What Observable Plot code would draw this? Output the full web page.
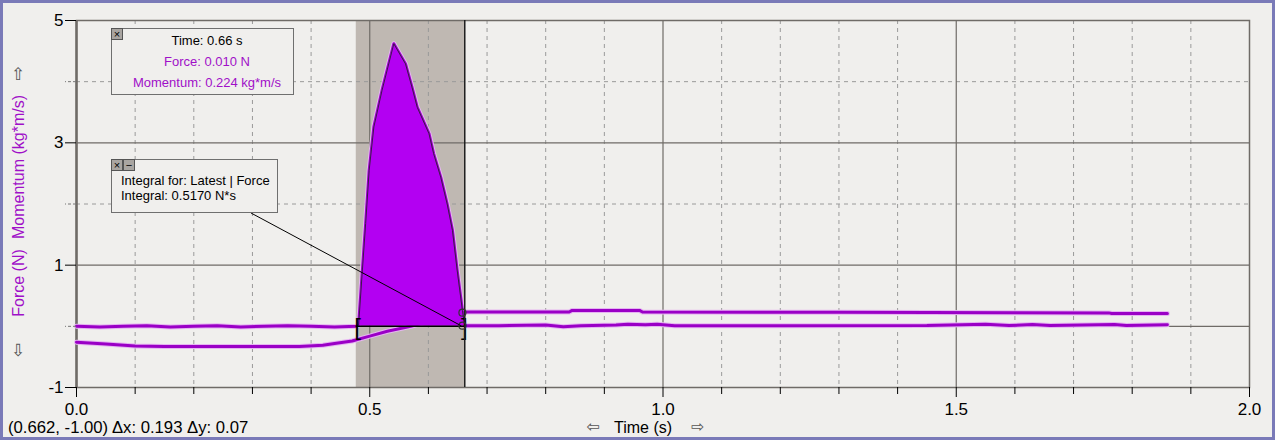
<!DOCTYPE html>
<html><head><meta charset="utf-8">
<script src="https://cdn.jsdelivr.net/npm/d3@7"></script>
<script src="https://cdn.jsdelivr.net/npm/@observablehq/plot@0.6"></script>
<style>
html,body{margin:0;padding:0;background:#f0efed;}
#chart{width:1275px;height:440px;position:relative;overflow:hidden;}
</style></head>
<body><div id="chart"></div>
<script>
// ---------- data ----------
const forceTime = [
  0.00, 0.04, 0.08, 0.12, 0.16, 0.20, 0.24, 0.28, 0.32, 0.36,
  0.40, 0.44, 0.477, 0.481, 0.487, 0.493, 0.499, 0.507, 0.521, 0.541,
  0.561, 0.572, 0.581, 0.601, 0.609, 0.621, 0.632, 0.641, 0.649, 0.658,
  0.662, 0.72, 0.80, 0.83, 0.86, 0.92, 0.94, 0.97, 0.99, 1.02,
  1.20, 1.45, 1.55, 1.59, 1.63, 1.66, 1.77, 1.79, 1.86
];
const forceValue = [
  0.00, -0.01, 0.00, 0.01, -0.01, 0.00, 0.01, -0.01, 0.00, 0.01,
  0.00, -0.01, 0.00, 0.02, 0.86, 1.68, 2.55, 3.26, 3.86, 4.62,
  4.29, 3.91, 3.58, 3.15, 2.82, 2.44, 2.00, 1.57, 0.92, 0.26,
  0.01, 0.01, 0.02, -0.005, 0.01, 0.02, 0.035, 0.025, 0.035, 0.01,
  0.01, 0.012, 0.035, 0.012, 0.03, 0.012, 0.03, 0.012, 0.025
];
const momentumTime = [
  0.00, 0.05, 0.10, 0.15, 0.20, 0.25, 0.30, 0.38, 0.42, 0.44,
  0.47, 0.50, 0.53, 0.57, 0.60, 0.63, 0.662, 0.665, 0.84, 0.845,
  0.96, 0.965, 1.30, 1.76, 1.765, 1.86
];
const momentumValue = [
  -0.26, -0.29, -0.32, -0.33, -0.33, -0.33, -0.33, -0.33, -0.31, -0.28,
  -0.24, -0.16, -0.08, 0.00, 0.08, 0.17, 0.224, 0.235, 0.235, 0.26,
  0.26, 0.235, 0.23, 0.22, 0.21, 0.21
];
const xMajorTicks = [0.0, 0.5, 1.0, 1.5, 2.0];
const xMinorTicks = [0.1, 0.2, 0.3, 0.4, 0.6, 0.7, 0.8, 0.9, 1.1, 1.2, 1.3, 1.4, 1.6, 1.7, 1.8, 1.9];
const yMajorTicks = [5, 3, 1, -1];
const yMinorTicks = [4, 2, 0];
const ySolidGrid = [3, 1, 0];
const selectionRange = [0.477, 0.662];
const cursorTime = 0.662;
const readoutTexts = ["Time: 0.66 s", "Force: 0.010 N", "Momentum: 0.224 kg*m/s"];
const readoutValues = [0.224, 0.010];
const integralTexts = ["Integral for: Latest | Force", "Integral: 0.5170 N*s"];
const statusText = "(0.662, -1.00) \u0394x: 0.193 \u0394y: 0.07";
const xAxisTitle = "Time (s)";
const yAxisTitles = ["Force (N)", "Momentum (kg*m/s)"];

// ---------- build tables ----------
const force = forceTime.map((t, i) => ({t, v: forceValue[i]}));
const momentum = momentumTime.map((t, i) => ({t, v: momentumValue[i]}));
const peak = force.filter(d => d.t >= selectionRange[0] && d.t <= selectionRange[1]);
const sel = [{start: selectionRange[0], end: selectionRange[1]}];

const PURPLE = "#9a00c6";
const HALO = "#e6b4f2";
const FILL = "#b300f2";
const GRID = "#6f6b67";
const DASH = "#9a9a9a";
const FONT = "'Liberation Sans', Arial, sans-serif";

const chart = Plot.plot({
  width: 1275, height: 440,
  marginLeft: 76, marginRight: 26, marginTop: 20, marginBottom: 53,
  x: {domain: [0, 2]},
  y: {domain: [-1, 5]},
  style: {background: "#f0efed", fontFamily: FONT, fontSize: "17px", color: "#000", overflow: "visible"},
  marks: [
    Plot.rect(sel, {x1: "start", x2: "end", fill: "#bfb8b2"}),
    Plot.gridX(xMinorTicks, {stroke: DASH, strokeOpacity: 1, strokeDasharray: "4,4"}),
    Plot.gridY([4, 2], {stroke: DASH, strokeOpacity: 1, strokeDasharray: "4,4"}),
    Plot.gridX([0.5, 1.0, 1.5], {stroke: GRID, strokeOpacity: 1, strokeWidth: 1.2}),
    Plot.gridY(ySolidGrid, {stroke: GRID, strokeOpacity: 1, strokeWidth: 1.2}),
    Plot.frame({stroke: GRID, strokeWidth: 1.5}),
    Plot.ruleX([0], {stroke: GRID, strokeWidth: 2.5}),
    // momentum
    Plot.line(momentum, {x: "t", y: "v", stroke: HALO, strokeWidth: 5}),
    Plot.line(momentum, {x: "t", y: "v", stroke: PURPLE, strokeWidth: 3}),
    // force
    Plot.line(force, {x: "t", y: "v", stroke: HALO, strokeWidth: 5}),
    Plot.line(force, {x: "t", y: "v", stroke: PURPLE, strokeWidth: 3}),
    Plot.areaY(peak, {x: "t", y: "v", fill: FILL}),
    Plot.line(peak, {x: "t", y: "v", stroke: "#3b1a48", strokeWidth: 1}),
    // integral baseline and brackets
    Plot.ruleY([0], {x1: selectionRange[0], x2: selectionRange[1], stroke: "#000", strokeWidth: 1.5}),
    Plot.text([selectionRange[0]], {x: d => d, y: 0, text: () => "[", fontSize: 24, textAnchor: "start", dx: -2, dy: 1, fill: "#000"}),
    Plot.text([selectionRange[1]], {x: d => d, y: 0, text: () => "]", fontSize: 24, textAnchor: "end", dx: 3, dy: 1, fill: "#000"}),
    // cursor
    Plot.ruleX([cursorTime], {stroke: "#1e1e1e", strokeWidth: 1.5}),
    Plot.dot(readoutValues, {x: cursorTime - 0.004, y: d => d, r: 3.5, stroke: "#333", strokeWidth: 1.2, fill: "none"}),
    // axes
    Plot.axisX(xMajorTicks, {tickSize: 10, tickPadding: 5, tickFormat: d3.format(".1f"), label: null, stroke: "#000"}),
    Plot.axisX(xMinorTicks, {tickSize: 7, tickFormat: () => "", label: null, stroke: "#000"}),
    Plot.axisY(yMajorTicks, {tickSize: 11, tickPadding: 2, tickFormat: d => String(d), label: null, stroke: "#000"}),
    Plot.axisY(yMinorTicks, {tickSize: 11, tickFormat: () => "", label: null, stroke: "#777", strokeDasharray: "3,2"})
  ]
});

document.getElementById("chart").appendChild(chart);

// ---------- decorations drawn in pixel space with d3 ----------
const svg = d3.select(chart);
const sx = chart.scale("x"), sy = chart.scale("y");
const g = svg.append("g").attr("font-family", FONT).attr("text-anchor", "start");

// leader line from integral box to the cursor point
g.append("line")
  .attr("x1", 251).attr("y1", 213)
  .attr("x2", sx.apply(cursorTime) - 3).attr("y2", sy.apply(0))
  .attr("stroke", "#000").attr("stroke-width", 1);

// readout box
g.append("rect").attr("x", 111.5).attr("y", 28.5).attr("width", 182).attr("height", 66)
  .attr("fill", "#f0efed").attr("stroke", "#6f6f6f");
g.append("rect").attr("x", 111.5).attr("y", 28.5).attr("width", 11).attr("height", 11)
  .attr("fill", "#a9a5a1").attr("stroke", "#555");
g.append("text").attr("x", 117).attr("y", 38).attr("text-anchor", "middle")
  .attr("font-size", 11).attr("fill", "#000").text("\u00d7");
const readoutColors = ["#000", "#a010c8", "#a010c8"];
const readoutY = [45, 66, 87];
readoutTexts.forEach((t, i) => {
  g.append("text").attr("x", 207).attr("y", readoutY[i]).attr("text-anchor", "middle")
    .attr("font-size", 13).attr("fill", readoutColors[i]).text(t);
});

// integral box
g.append("rect").attr("x", 111.5).attr("y", 159.5).attr("width", 166).attr("height", 53)
  .attr("fill", "#f0efed").attr("stroke", "#6f6f6f");
[[111.5, "\u00d7"], [123.5, "\u2212"]].forEach(([x, s]) => {
  g.append("rect").attr("x", x).attr("y", 159.5).attr("width", 11).attr("height", 11)
    .attr("fill", "#a9a5a1").attr("stroke", "#555");
  g.append("text").attr("x", x + 5.5).attr("y", 169).attr("text-anchor", "middle")
    .attr("font-size", 11).attr("fill", "#000").text(s);
});
integralTexts.forEach((t, i) => {
  g.append("text").attr("x", 121).attr("y", 184.5 + i * 15.5).attr("text-anchor", "start")
    .attr("font-size", 13).attr("fill", "#000").text(t);
});

// y axis titles
const yTitleCenters = [283, 167];
yAxisTitles.forEach((t, i) => {
  g.append("text").attr("transform", `translate(24,${yTitleCenters[i]}) rotate(-90)`)
    .attr("text-anchor", "middle").attr("font-size", 16).attr("fill", "#a010c8").text(t);
});
g.append("text").attr("x", 18).attr("y", 80).attr("text-anchor", "middle")
  .attr("font-family", "DejaVu Sans").attr("font-size", 17).attr("fill", "#555").text("\u21e7");
g.append("text").attr("x", 18).attr("y", 356).attr("text-anchor", "middle")
  .attr("font-family", "DejaVu Sans").attr("font-size", 17).attr("fill", "#555").text("\u21e9");

// x axis title
g.append("text").attr("x", 643).attr("y", 433).attr("text-anchor", "middle")
  .attr("font-size", 16).attr("fill", "#000").text(xAxisTitle);
g.append("text").attr("x", 593).attr("y", 432).attr("text-anchor", "middle")
  .attr("font-family", "DejaVu Sans").attr("font-size", 16).attr("fill", "#555").text("\u21e6");
g.append("text").attr("x", 698).attr("y", 432).attr("text-anchor", "middle")
  .attr("font-family", "DejaVu Sans").attr("font-size", 16).attr("fill", "#555").text("\u21e8");

// status line
g.append("text").attr("x", 8).attr("y", 433).attr("text-anchor", "start")
  .attr("font-size", 16.7).attr("fill", "#000").text(statusText);

// window border
g.append("rect").attr("x", 1.5).attr("y", 1.5).attr("width", 1272).attr("height", 437)
  .attr("fill", "none").attr("stroke", "#7a7ab8").attr("stroke-width", 3);
</script>
</body></html>
